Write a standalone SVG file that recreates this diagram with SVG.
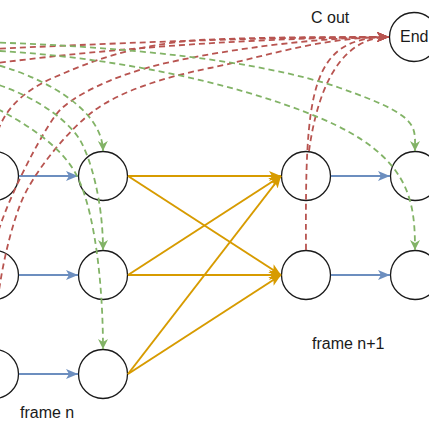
<svg xmlns="http://www.w3.org/2000/svg" width="429" height="429" viewBox="0 0 429 429">
<defs>
<marker id="mBlue" markerUnits="userSpaceOnUse" markerWidth="14" markerHeight="12" refX="12" refY="5" orient="auto"><path d="M0,0 L12,5 L0,10 L3,5 z" fill="#6c8ebf"/></marker>
<marker id="mOrange" markerUnits="userSpaceOnUse" markerWidth="14" markerHeight="12" refX="12" refY="5" orient="auto"><path d="M0,0 L12,5 L0,10 L3,5 z" fill="#d79b00"/></marker>
<marker id="mRed" markerUnits="userSpaceOnUse" markerWidth="14" markerHeight="12" refX="12" refY="5" orient="auto"><path d="M0,0 L12,5 L0,10 L3,5 z" fill="#b85450"/></marker>
<marker id="mGreen" markerUnits="userSpaceOnUse" markerWidth="14" markerHeight="12" refX="10" refY="5" orient="auto"><path d="M0,0 L10,5 L0,10 L3,5 z" fill="#82b366"/></marker>
</defs>
<style>
.node{fill:#ffffff;stroke:#1a1a1a;stroke-width:1.3}
.lbl{font-family:"Liberation Sans",Arial,sans-serif;font-size:16px;fill:#1a1a1a}
.blue{fill:none;stroke:#6c8ebf;stroke-width:2;marker-end:url(#mBlue)}
.orange{fill:none;stroke:#d79b00;stroke-width:2;marker-end:url(#mOrange)}
.red{fill:none;stroke:#b85450;stroke-width:1.8;stroke-dasharray:6 4;marker-end:url(#mRed)}
.green{fill:none;stroke:#82b366;stroke-width:1.8;stroke-dasharray:6 4;marker-end:url(#mGreen)}
</style>
<g id="nodes">
<g id="n_prev_1"><circle class="node" cx="-6" cy="176" r="24.5"/></g>
<g id="n_prev_2"><circle class="node" cx="-6" cy="275" r="24.5"/></g>
<g id="n_prev_3"><circle class="node" cx="-6" cy="374" r="24.5"/></g>
<g id="n_f_1"><circle class="node" cx="103" cy="176" r="24.5"/></g>
<g id="n_f_2"><circle class="node" cx="103" cy="275" r="24.5"/></g>
<g id="n_f_3"><circle class="node" cx="103" cy="374" r="24.5"/></g>
<g id="n_g_1"><circle class="node" cx="306" cy="176" r="24.5"/></g>
<g id="n_g_2"><circle class="node" cx="306" cy="275" r="24.5"/></g>
<g id="n_h_1"><circle class="node" cx="415" cy="176" r="24.5"/></g>
<g id="n_h_2"><circle class="node" cx="415" cy="275" r="24.5"/></g>
<g id="n_end"><circle class="node" cx="414" cy="37" r="24.5"/><text class="lbl" x="400" y="42">End</text></g>
</g>
<g id="connectors">
<path class="blue" d="M19,176 L78,176"/>
<path class="blue" d="M19,275 L78,275"/>
<path class="blue" d="M19,374 L78,374"/>
<path class="blue" d="M331,176 L390,176"/>
<path class="blue" d="M331,275 L390,275"/>
<path class="orange" d="M128,176 L281,176"/>
<path class="orange" d="M128,176 L281,275"/>
<path class="orange" d="M128,275 L281,176"/>
<path class="orange" d="M128,275 L281,275"/>
<path class="orange" d="M128,374 L281,176"/>
<path class="orange" d="M128,374 L281,275"/>
<path class="red" d="M-6,150 C-3,115 20,92 55,77 C90,62 130,45 200,40 C260,37 330,37 389,37"/>
<path class="red" d="M-6,250 C-2,215 45,125 60,110 C75,95 110,78 150,67 C190,56 300,37 389,37"/>
<path class="red" d="M-6,349 C-5,300 5,245 20,205 C32,173 70,128 95,110 C120,92 160,78 210,68 C260,58 320,37 389,37"/>
<path class="red" d="M-10,49 C100,44 250,37 389,37"/>
<path class="red" d="M-10,64 C80,52 230,38 389,37"/>
<path class="red" d="M309,151 C316,100 335,37 389,37"/>
<path class="red" d="M306,250 C305,90 310,37 389,37"/>
<path class="green" d="M-20,62 C0,62 102,95 103,151"/>
<path class="green" d="M-20,80 C20,88 65,115 80,140 C90,157 103,200 103,250"/>
<path class="green" d="M-20,100 C10,115 60,140 78,178 C96,216 103,290 103,349"/>
<path class="green" d="M-20,42 C120,46 260,60 340,88 C420,116 415,125 415,151"/>
<path class="green" d="M-20,50 C100,55 230,80 320,118 C410,156 415,200 415,250"/>
</g>
<g id="labels">
<text class="lbl" x="311" y="23">C out</text>
<text class="lbl" x="20" y="418">frame n</text>
<text class="lbl" x="312" y="349">frame n+1</text>
</g>
</svg>
